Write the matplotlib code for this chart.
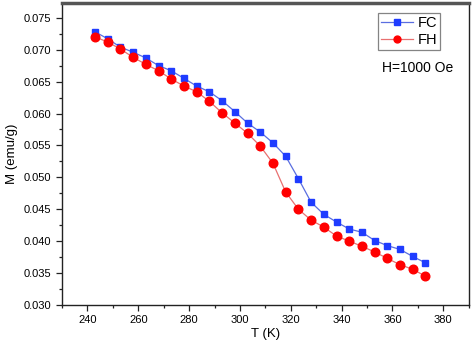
import matplotlib
matplotlib.use("Agg")
import matplotlib.pyplot as plt
from matplotlib.ticker import MultipleLocator

plt.rcParams['font.family'] = ['Liberation Sans', 'DejaVu Sans']

# Temperature (K)
temperature = [243, 248, 253, 258, 263, 268, 273, 278, 283, 288, 293, 298, 303,
               308, 313, 318, 323, 328, 333, 338, 343, 348, 353, 358, 363, 368, 373]

# Field-cooled magnetization (emu/g)
m_fc = [0.0728, 0.0717, 0.0704, 0.0696, 0.0687, 0.0675, 0.0667, 0.0655, 0.0643,
        0.0634, 0.0620, 0.0603, 0.0585, 0.0571, 0.0554, 0.0533, 0.0498, 0.0461,
        0.0442, 0.0430, 0.0419, 0.0414, 0.0401, 0.0393, 0.0387, 0.0376, 0.0366]

# Field-heated magnetization (emu/g)
m_fh = [0.0720, 0.0712, 0.0701, 0.0688, 0.0677, 0.0667, 0.0654, 0.0643, 0.0634,
        0.0619, 0.0601, 0.0585, 0.0569, 0.0549, 0.0522, 0.0477, 0.0450, 0.0433,
        0.0422, 0.0408, 0.0400, 0.0392, 0.0383, 0.0373, 0.0363, 0.0356, 0.0345]

fig = plt.figure(figsize=(4.74, 3.45), dpi=100)
ax = fig.add_axes([0.1308, 0.116, 0.858, 0.875])

ax.plot(temperature, m_fc, color='#5a6ee0', lw=0.9, marker='s', ms=5,
        mfc='#1f3cff', mec='#1f3cff', label='FC')
ax.plot(temperature, m_fh, color='#e87070', lw=0.9, marker='o', ms=6.2,
        mfc='#ff0000', mec='#ff0000', label='FH')

ax.set_xlim(230, 390)
ax.set_ylim(0.030, 0.0773)
ax.xaxis.set_major_locator(MultipleLocator(20))
ax.xaxis.set_minor_locator(MultipleLocator(10))
ax.yaxis.set_major_locator(MultipleLocator(0.005))
ax.yaxis.set_minor_locator(MultipleLocator(0.0025))
ax.yaxis.set_major_formatter(plt.FuncFormatter(lambda v, p: f"{v:.3f}"))

ax.tick_params(which='both', direction='out', top=False, right=False,
               labelsize=8, color='#222222')
ax.tick_params(which='major', length=4, width=0.9)
ax.tick_params(which='minor', length=2.5, width=0.9)
for s in ax.spines.values():
    s.set_linewidth(1.0)
    s.set_color('#222222')
ax.spines['top'].set_linewidth(2.5)
ax.spines['top'].set_color('#555555')

ax.set_xlabel('T (K)', fontsize=9.5, labelpad=2)
ax.set_ylabel('M (emu/g)', fontsize=9.5, labelpad=4)

leg = ax.legend(loc='upper right', bbox_to_anchor=(0.929, 0.968), fontsize=10.5,
                frameon=True, fancybox=False, handlelength=2.2, markerscale=0.8,
                handletextpad=0.3, borderpad=0.2, labelspacing=0.25,
                borderaxespad=0)
leg.get_frame().set_edgecolor('#666666')
leg.get_frame().set_linewidth(0.9)

ax.text(0.875, 0.785, 'H=1000 Oe', transform=ax.transAxes, fontsize=10,
        ha='center', va='center')

fig.savefig('out.png', dpi=100)
